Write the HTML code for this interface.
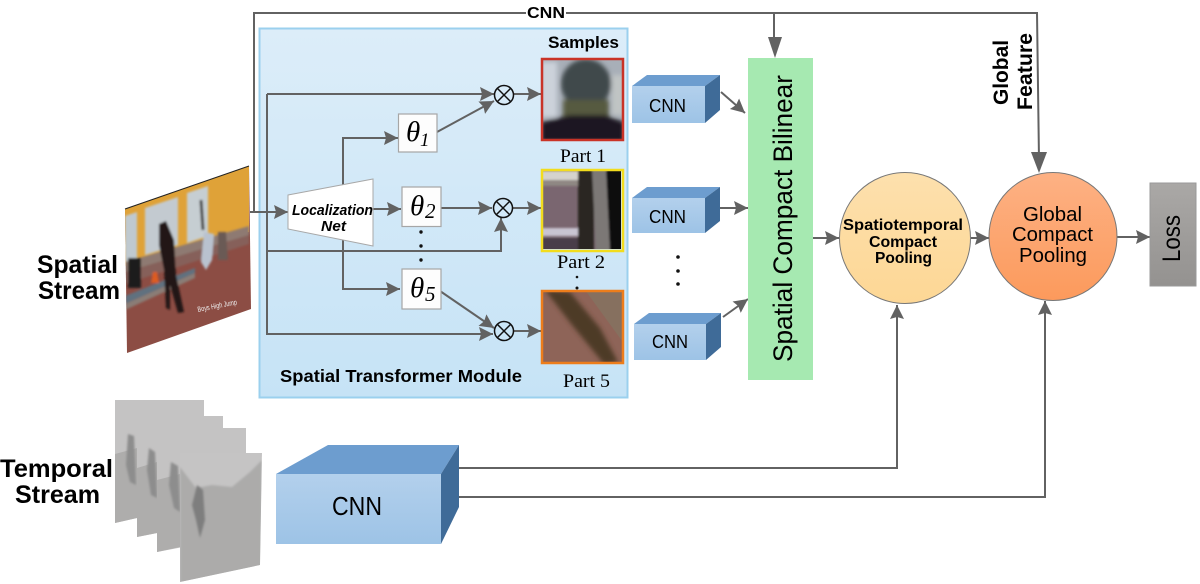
<!DOCTYPE html>
<html><head><meta charset="utf-8"><style>
html,body{margin:0;padding:0;background:#fff}
svg{display:block}
text{font-family:"Liberation Sans",sans-serif;fill:#000}
.l{fill:none;stroke:#626262;stroke-width:2}
.a{marker-end:url(#h)}
.b{font-weight:bold}
.s{font-family:"Liberation Serif",serif}
</style></head><body>
<svg width="1200" height="584" viewBox="0 0 1200 584" xmlns="http://www.w3.org/2000/svg">
<defs>
<marker id="h" markerUnits="userSpaceOnUse" markerWidth="16" markerHeight="16" refX="14" refY="7" orient="auto"><path d="M0 0L14 7L0 14L2 7Z" fill="#626262"/></marker>
<linearGradient id="bg" x1="0" y1="0" x2="0" y2="1"><stop offset="0" stop-color="#dcedf9"/><stop offset="1" stop-color="#c6e3f6"/></linearGradient>
<linearGradient id="cn" x1="0" y1="0" x2="0" y2="1"><stop offset="0" stop-color="#b3d0ec"/><stop offset="1" stop-color="#9dc3e6"/></linearGradient>
<linearGradient id="c1" x1="0" y1="0" x2="0" y2="1"><stop offset="0" stop-color="#fde0ad"/><stop offset="1" stop-color="#fdd795"/></linearGradient>
<linearGradient id="c2" x1="0" y1="0" x2="0" y2="1"><stop offset="0" stop-color="#fdb184"/><stop offset="1" stop-color="#fc9a5c"/></linearGradient>
<linearGradient id="ls" x1="0" y1="0" x2="0" y2="1"><stop offset="0" stop-color="#aaa8a6"/><stop offset="1" stop-color="#949290"/></linearGradient>
<filter id="bl" x="-30%" y="-30%" width="160%" height="160%"><feGaussianBlur stdDeviation="2.500"/></filter>
<filter id="b1" x="-30%" y="-30%" width="160%" height="160%"><feGaussianBlur stdDeviation="1"/></filter>
<clipPath id="sp"><polygon points="125,209 249,166 251,309 127,353"/></clipPath>
<clipPath id="p1"><rect x="543" y="60" width="79" height="79"/></clipPath>
<clipPath id="p2"><rect x="543" y="171" width="78" height="78"/></clipPath>
<clipPath id="p5"><rect x="543" y="292" width="79" height="70"/></clipPath>
<clipPath id="t1"><polygon points="180,453 262,453 260,565 180,582"/></clipPath>
</defs>

<!-- spatial image -->
<g clip-path="url(#sp)">
<rect x="120" y="160" width="135" height="200" fill="#8c4d44"/>
<polygon points="125,209 249,166 249,232 125,266" fill="#dfa238"/>
<g filter="url(#b1)">
<polygon points="125,216 137,212 137,258 125,262" fill="#bfc9cf"/>
<polygon points="145,208 178,197 178,245 145,255" fill="#c3cad0"/>
<polygon points="187,193 208,186 208,236 187,243" fill="#c6ced2"/>
<polygon points="125,262 249,226 249,238 125,280" fill="#8e7a72"/>
<polygon points="125,272 249,235 249,244 125,284" fill="#86605a"/>
<polygon points="125,296 195,268 195,273 125,304" fill="#61717f"/>
<polygon points="125,304 195,273 195,278 125,310" fill="#8a7d76"/>
<path d="M159 224L166 221L174 240L176 275L184 312L178 313L170 285L170 310L166 308L164 270L159 245Z" fill="#241816"/>
<rect x="128" y="258" width="13" height="30" fill="#1b1b1b"/>
<path d="M153 272l4 0l2 11l-8 0z" fill="#dc5b20"/>
<path d="M204 232L214 234L212 260L206 270L201 262Z" fill="#b9c2cf"/>
<path d="M218 232l8 0l2 28l-10 0z" fill="#6b5a55"/>
<path d="M201 200l2 30" stroke="#444" stroke-width="3"/>
</g>
<text x="198" y="312" font-size="7.500" textLength="40" lengthAdjust="spacingAndGlyphs" style="fill:#eee" transform="rotate(-11 198 312)">Boys High Jump</text>
</g>
<polyline points="125,209 249,166" fill="none" stroke="#222" stroke-width="1"/>

<!-- temporal frames -->
<g>
<polygon points="115,400 204,400 204,503 115,523" fill="#c4c3c3"/>
<polygon points="115,454 137,448 137,518 115,523" fill="#aeadac"/>
<path d="M128 434L134 436L136 485L130 482L126 465Z" fill="#8d8d8d" filter="url(#b1)"/>
<polygon points="137,416 223,416 223,520 137,537" fill="#c4c3c3"/>
<polygon points="137,468 157,462 157,533 137,537" fill="#aeadac"/>
<path d="M149 448L155 452L157 498L151 495L147 470Z" fill="#8d8d8d" filter="url(#b1)"/>
<polygon points="157,428 246,428 246,535 157,552" fill="#c4c3c3"/>
<polygon points="157,480 180,474 180,547 157,552" fill="#aeadac"/>
<path d="M171 462L178 466L180 512L174 508L169 485Z" fill="#8d8d8d" filter="url(#b1)"/>
<g clip-path="url(#t1)">
<polygon points="180,453 262,453 260,565 180,582" fill="#c5c4c4"/>
<path d="M180 467L196 488L212 485L232 487L250 472L262 460L262 570L180 585Z" fill="#acabaa" filter="url(#b1)"/>
<path d="M197 485L203 490L205 520L200 538L196 520L192 505Z" fill="#7e7e7e" filter="url(#b1)"/>
</g>
</g>

<!-- blue module -->
<rect x="259.500" y="28.500" width="368" height="369" fill="url(#bg)" stroke="#9bd0ee" stroke-width="2"/>

<!-- top connector -->
<polyline class="l" points="254,212 254,13 1037,13 1039,160"/>
<polyline class="l" points="774,13 774,42"/>
<path d="M1031 152L1047 152L1039 173Z" fill="#626262"/>
<path d="M768 37L782 37L775 58Z" fill="#626262"/>
<rect x="526" y="4" width="40" height="15" fill="#fff"/>
<text x="527" y="18" class="b" font-size="15.500" textLength="38" lengthAdjust="spacingAndGlyphs">CNN</text>

<!-- localization connectors -->
<polyline class="l a" points="250,212 288,212"/>
<polyline class="l" points="267,251 267,94"/>
<polyline class="l a" points="267,94 494,94"/>
<polyline class="l a" points="267,251 501,251 501,218"/>
<polyline class="l a" points="267,212 267,334 493,334"/>
<polyline class="l a" points="343,187 343,138 398,138"/>
<polyline class="l a" points="343,240 343,289 400,289"/>
<polyline class="l a" points="373,209 401,209"/>
<polyline class="l a" points="437,132 494,101"/>
<polyline class="l a" points="441,208 492,208"/>
<polyline class="l a" points="440,291 494,328"/>
<polyline class="l a" points="514,94 541,94"/>
<polyline class="l a" points="513,208 541,208"/>
<polyline class="l a" points="514,331 541,331"/>

<polygon points="288,195 373,179 373,246 288,229" fill="#fff" stroke="#a8a8a8"/>
<text x="292" y="215" class="b" font-size="15" font-style="italic" textLength="81" lengthAdjust="spacingAndGlyphs">Localization</text>
<text x="321" y="231" class="b" font-size="15" font-style="italic" textLength="25" lengthAdjust="spacingAndGlyphs">Net</text>

<!-- thetas -->
<g fill="#fdfdfd" stroke="#a6a6a6" stroke-width="1.200">
<rect x="398.500" y="114" width="38.500" height="38"/>
<rect x="402" y="187" width="39" height="39.500"/>
<rect x="402" y="269" width="39" height="40"/>
</g>
<text x="406" y="141" class="s" font-size="29" font-style="italic">θ</text><text x="420" y="146" class="s" font-size="19" font-style="italic">1</text>
<text x="410" y="215" class="s" font-size="29" font-style="italic">θ</text><text x="425" y="218" class="s" font-size="21" font-style="italic">2</text>
<text x="410" y="297" class="s" font-size="29" font-style="italic">θ</text><text x="425" y="301" class="s" font-size="21" font-style="italic">5</text>

<!-- otimes -->
<g fill="none" stroke="#111" stroke-width="1.500">
<circle cx="504" cy="95" r="9.500"/><path d="M497.500 88.500L510.500 101.500M510.500 88.500L497.500 101.500"/>
<circle cx="503" cy="208" r="9.500"/><path d="M496.500 201.500L509.500 214.500M509.500 201.500L496.500 214.500"/>
<circle cx="504" cy="331" r="9.500"/><path d="M497.500 324.500L510.500 337.500M510.500 324.500L497.500 337.500"/>
</g>

<!-- dots -->
<g fill="#111">
<circle cx="421" cy="232" r="1.700"/><circle cx="421" cy="246" r="1.700"/><circle cx="421" cy="260" r="1.700"/>
<circle cx="577" cy="277" r="1.300"/><circle cx="577" cy="288" r="1.500"/><circle cx="569" cy="294" r="1.300"/>
<circle cx="678" cy="257" r="1.800"/><circle cx="678" cy="271" r="1.800"/><circle cx="678" cy="284" r="1.800"/>
</g>

<!-- samples -->
<text x="548" y="48" class="b" font-size="17" textLength="71" lengthAdjust="spacingAndGlyphs">Samples</text>
<g clip-path="url(#p1)">
<rect x="541" y="58" width="84" height="84" fill="#a8afb8"/>
<g filter="url(#bl)">
<rect x="541" y="62" width="16" height="55" fill="#ccd2da"/>
<rect x="612" y="75" width="12" height="40" fill="#c0c4c4"/>
<ellipse cx="586" cy="84" rx="25" ry="25" fill="#41484c"/>
<rect x="563" y="100" width="46" height="18" fill="#565a40"/>
<path d="M541 142L541 122L570 115L605 115L624 122L624 142Z" fill="#1a1620"/>
</g>
</g>
<rect x="542" y="59" width="81" height="81" fill="none" stroke="#c93327" stroke-width="2.500"/>
<text x="560" y="162" class="s" font-size="19" textLength="46" lengthAdjust="spacingAndGlyphs">Part 1</text>

<g clip-path="url(#p2)">
<rect x="541" y="169" width="84" height="84" fill="#7a6670"/>
<g filter="url(#b1)">
<rect x="541" y="171" width="40" height="9" fill="#d5d3cd"/>
<rect x="541" y="180" width="40" height="6" fill="#8f8883"/>
<rect x="541" y="228" width="40" height="8" fill="#c9c5d2"/>
<rect x="541" y="238" width="40" height="14" fill="#4a3d4a"/>
<rect x="578" y="169" width="16" height="84" fill="#2a2524"/>
<path d="M592 169L606 169L610 252L596 252Z" fill="#7c7876"/>
<path d="M606 169L625 169L625 252L610 252Z" fill="#0d0b0a"/>
</g>
</g>
<rect x="542" y="170" width="81" height="81" fill="none" stroke="#f2dc1d" stroke-width="2.500"/>
<text x="557" y="268" class="s" font-size="19" textLength="48" lengthAdjust="spacingAndGlyphs">Part 2</text>

<g clip-path="url(#p5)">
<rect x="541" y="290" width="84" height="74" fill="#8e6458"/>
<polygon points="585,290 625,290 625,345" fill="#86705f"/>
<path d="M545 290L570 292L600 328L618 362L604 364L572 325Z" fill="#4e3a26" filter="url(#bl)"/>
</g>
<rect x="542" y="291" width="81" height="72" fill="none" stroke="#ed7d1b" stroke-width="2.500"/>
<text x="563" y="387" class="s" font-size="19" textLength="47" lengthAdjust="spacingAndGlyphs">Part 5</text>

<text x="280" y="382" class="b" font-size="17.500" textLength="242" lengthAdjust="spacingAndGlyphs">Spatial Transformer Module</text>

<!-- small CNNs -->
<g>
<polygon points="632,86 647,75 720,75 705,86" fill="#6d9dcf"/><polygon points="705,86 720,75 720,110 705,123" fill="#3f6b98"/><rect x="632" y="86" width="73" height="37" fill="url(#cn)"/>
<text x="649" y="112" font-size="18" textLength="37" lengthAdjust="spacingAndGlyphs">CNN</text>
<polygon points="632,198 647,187 720,187 705,198" fill="#6d9dcf"/><polygon points="705,198 720,187 720,221 705,233" fill="#3f6b98"/><rect x="632" y="198" width="73" height="35" fill="url(#cn)"/>
<text x="649" y="223" font-size="18" textLength="37" lengthAdjust="spacingAndGlyphs">CNN</text>
<polygon points="634,324 649,313 721,313 706,324" fill="#6d9dcf"/><polygon points="706,324 721,313 721,347 706,360" fill="#3f6b98"/><rect x="634" y="324" width="72" height="36" fill="url(#cn)"/>
<text x="652" y="348" font-size="18" textLength="36" lengthAdjust="spacingAndGlyphs">CNN</text>
</g>
<polyline class="l a" points="721,92 745,113"/>
<polyline class="l a" points="720,208 748,208"/>
<polyline class="l a" points="723,317 748,299"/>

<!-- green -->
<rect x="748" y="58" width="65" height="322" fill="#a6e9b1"/>
<text transform="translate(792,362) rotate(-90)" font-size="27" textLength="287" lengthAdjust="spacingAndGlyphs">Spatial Compact Bilinear</text>

<!-- right connectors -->
<polyline class="l a" points="813,238 839,238"/>
<polyline class="l a" points="971,238 989,238"/>
<polyline class="l a" points="1117,237 1150,237"/>

<circle cx="905" cy="238" r="65.500" fill="url(#c1)" stroke="#777"/>
<text x="843" y="230" class="b" font-size="16" textLength="120" lengthAdjust="spacingAndGlyphs">Spatiotemporal</text>
<text x="869" y="247" class="b" font-size="16" textLength="68" lengthAdjust="spacingAndGlyphs">Compact</text>
<text x="875" y="263" class="b" font-size="16" textLength="57" lengthAdjust="spacingAndGlyphs">Pooling</text>

<circle cx="1053" cy="236.500" r="64" fill="url(#c2)" stroke="#777"/>
<text x="1023" y="221" font-size="20" textLength="59" lengthAdjust="spacingAndGlyphs">Global</text>
<text x="1012" y="241" font-size="20" textLength="81" lengthAdjust="spacingAndGlyphs">Compact</text>
<text x="1019" y="262" font-size="20" textLength="68" lengthAdjust="spacingAndGlyphs">Pooling</text>

<rect x="1150" y="183" width="46" height="103" fill="url(#ls)" stroke="#999"/>
<text transform="translate(1180,262) rotate(-90)" font-size="25" textLength="47" lengthAdjust="spacingAndGlyphs">Loss</text>

<text transform="translate(1008,105) rotate(-90)" class="b" font-size="21" textLength="65" lengthAdjust="spacingAndGlyphs">Global</text>
<text transform="translate(1032,110) rotate(-90)" class="b" font-size="21" textLength="77" lengthAdjust="spacingAndGlyphs">Feature</text>

<!-- big CNN -->
<polygon points="276,474 328,445 459,445 441,474" fill="#6d9dcf"/>
<polygon points="441,474 459,445 459,507 441,544" fill="#3f6b98"/>
<rect x="276" y="474" width="165" height="70" fill="url(#cn)"/>
<text x="332" y="515" font-size="26" textLength="50" lengthAdjust="spacingAndGlyphs">CNN</text>
<polyline class="l a" points="459,468 897,468 897,305"/>
<polyline class="l a" points="459,497 1045,497 1045,301"/>

<!-- stream labels -->
<text x="37" y="273" class="b" font-size="25" textLength="81" lengthAdjust="spacingAndGlyphs">Spatial</text>
<text x="38" y="299" class="b" font-size="25" textLength="82" lengthAdjust="spacingAndGlyphs">Stream</text>
<text x="0" y="477" class="b" font-size="25" textLength="113" lengthAdjust="spacingAndGlyphs">Temporal</text>
<text x="15" y="503" class="b" font-size="25" textLength="85" lengthAdjust="spacingAndGlyphs">Stream</text>
</svg>
</body></html>
